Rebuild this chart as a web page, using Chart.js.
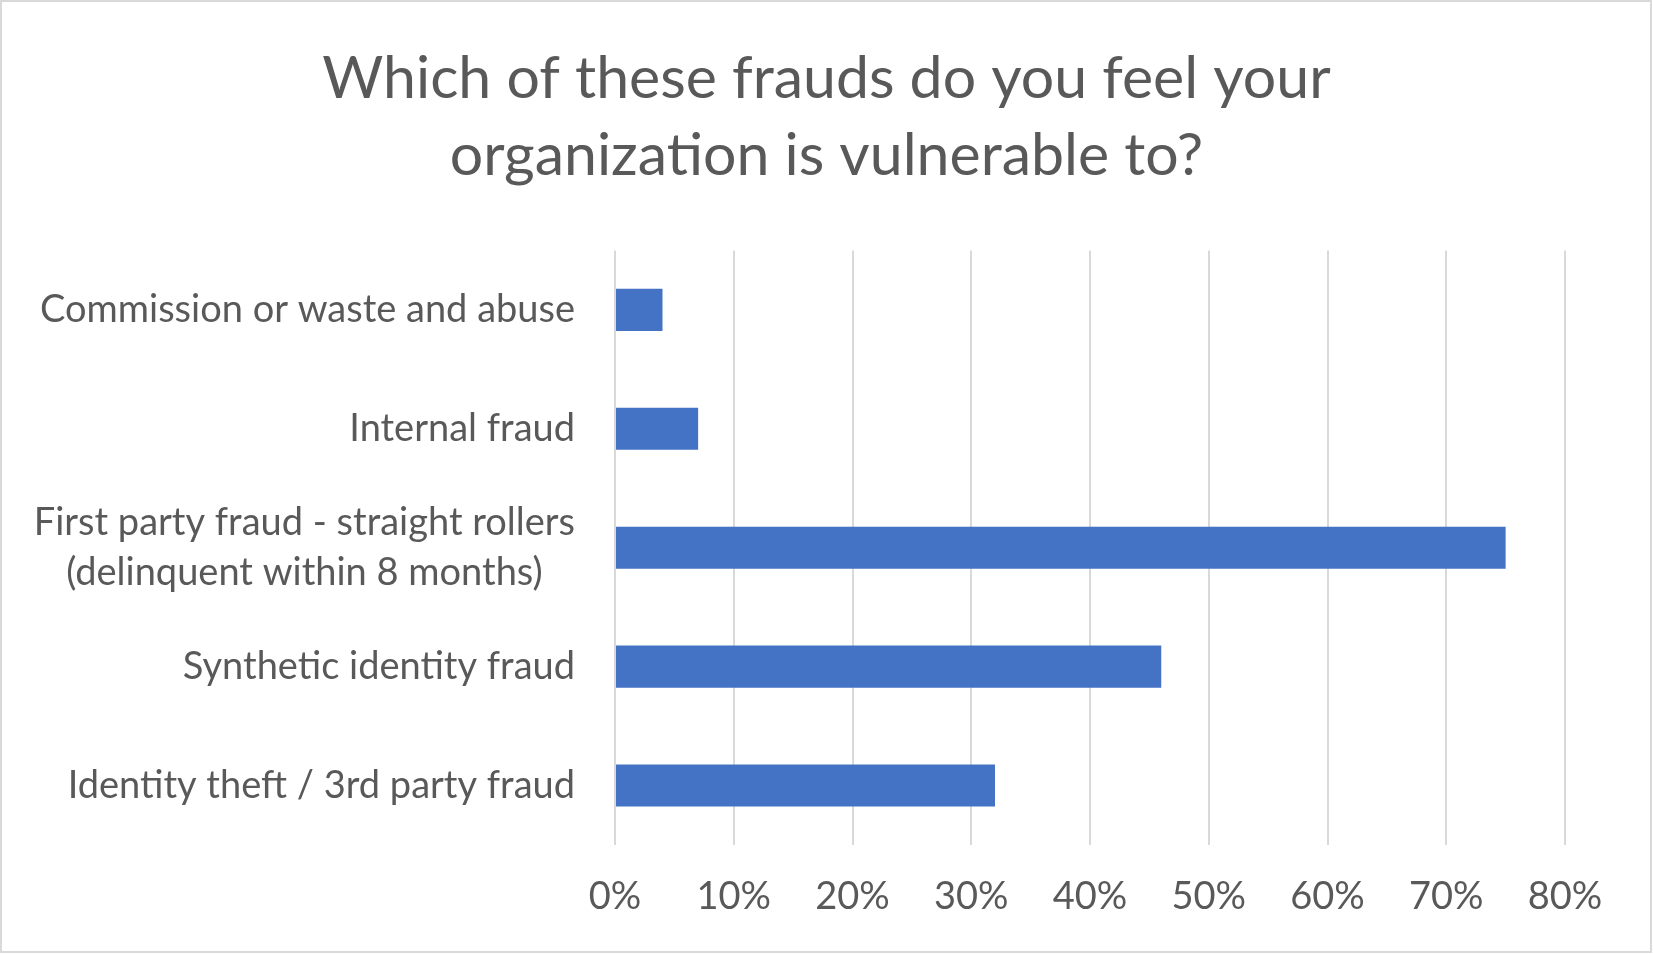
<!DOCTYPE html>
<html>
<head>
<meta charset="utf-8">
<title>Fraud vulnerability</title>
<script src="https://cdn.jsdelivr.net/npm/chart.js@4.4.0/dist/chart.umd.min.js"></script>
<style>
  html, body { margin: 0; padding: 0; background: #ffffff; }
  #wrap { width: 1653px; height: 954px; position: relative; }
</style>
</head>
<body>
<div id="wrap"><canvas id="fraudChart"></canvas></div>
<script>
const categories = [
    'Commission or waste and abuse',
    'Internal fraud',
    ['First party fraud - straight rollers', '(delinquent within 8 months)'],
    'Synthetic identity fraud',
    'Identity theft / 3rd party fraud'
];
const shares = [4, 7, 75, 46, 32];
const axisMax = 80;
const axisStep = 10;
const titleLines = ['Which of these frauds do you feel your', 'organization is vulnerable to?'];

const TEXT = '#595959';
const GRID = '#d9d9d9';
const LABEL_SIZE = 38;

// category labels: block right-aligned, lines centred inside the block
const yLabels = {
    id: 'yLabels',
    afterDraw(chart) {
        const ctx = chart.ctx;
        const y = chart.scales.y;
        ctx.save();
        ctx.font = LABEL_SIZE + 'px Lato';
        ctx.fillStyle = TEXT;
        ctx.textAlign = 'center';
        ctx.textBaseline = 'middle';
        const right = y.right - 40;
        chart.data.labels.forEach((lab, i) => {
            const lines = [].concat(lab);
            const w = Math.max(...lines.map(l => ctx.measureText(l).width));
            const cy = y.getPixelForValue(i);
            lines.forEach((l, j) => {
                ctx.fillText(l, right - w / 2, cy + (j - (lines.length - 1) / 2) * 50);
            });
        });
        ctx.restore();
    }
};

const frame = {
    id: 'frame',
    afterDraw(chart) {
        const ctx = chart.ctx;
        ctx.save();
        ctx.strokeStyle = GRID;
        ctx.lineWidth = 2;
        ctx.strokeRect(1, 1, chart.width - 3, chart.height - 3);
        ctx.restore();
    }
};

Chart.defaults.font.family = 'Lato';
Chart.defaults.color = TEXT;

new Chart(document.getElementById('fraudChart').getContext('2d'), {
    type: 'bar',
    data: {
        labels: categories,
        datasets: [{
            data: shares,
            backgroundColor: '#4472c4',
            barPercentage: 0.354,
            categoryPercentage: 1
        }]
    },
    options: {
        indexAxis: 'y',
        responsive: true,
        maintainAspectRatio: false,
        animation: false,
        layout: { padding: 0 },
        plugins: {
            legend: { display: false },
            tooltip: { enabled: false },
            title: {
                display: true,
                text: titleLines,
                color: TEXT,
                font: { family: 'Lato', size: 59, weight: 'normal', lineHeight: 1.3 },
                padding: { top: 41, bottom: 56 }
            }
        },
        scales: {
            x: {
                min: 0,
                max: axisMax,
                ticks: {
                    stepSize: axisStep,
                    padding: 29,
                    color: TEXT,
                    font: { size: LABEL_SIZE },
                    callback: v => v + '%'
                },
                grid: { color: GRID, lineWidth: 2, drawTicks: false },
                border: { display: false },
                afterFit: s => { s.height = 109; s.paddingRight = 88; }
            },
            y: {
                ticks: { display: false },
                grid: { display: false, drawTicks: false },
                border: { display: false },
                afterFit: s => { s.width = 615; }
            }
        }
    },
    plugins: [yLabels, frame]
});
</script>
</body>
</html>
